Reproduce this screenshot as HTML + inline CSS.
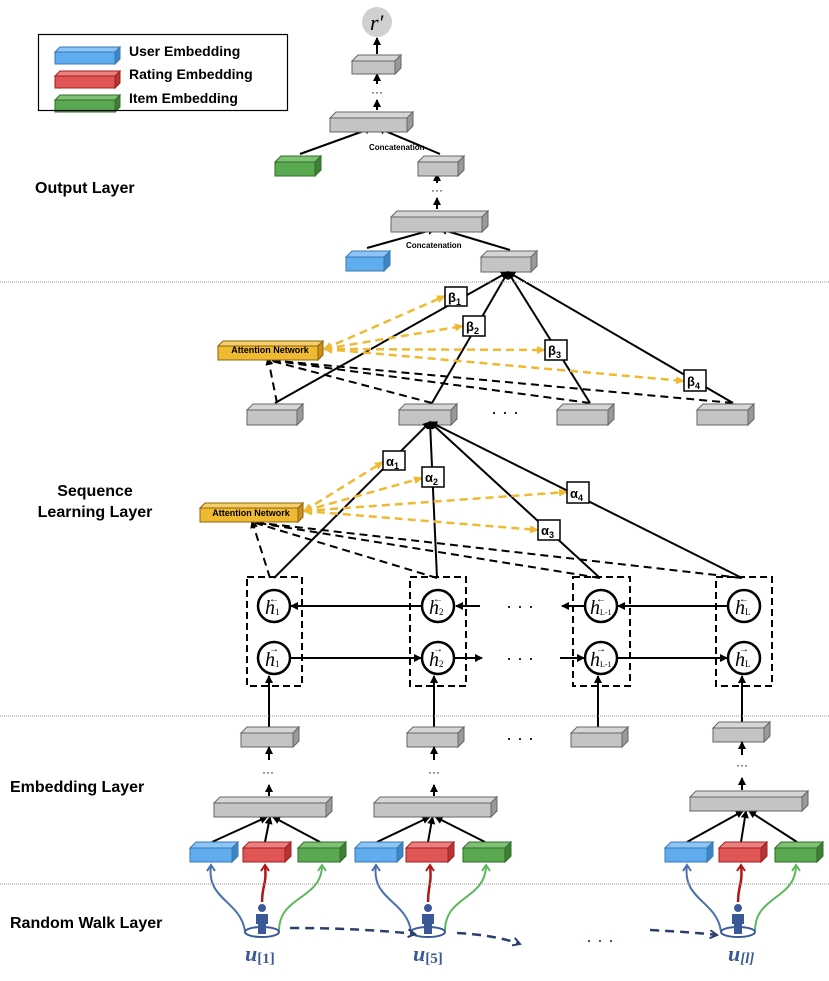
<!DOCTYPE html>
<html><head><meta charset="utf-8"><style>
html,body{margin:0;padding:0;background:#fff;width:829px;height:981px;overflow:hidden}
svg{display:block}
.lbl{font-family:"Liberation Sans",sans-serif;font-weight:bold;font-size:16px;fill:#000}
.lg{font-family:"Liberation Sans",sans-serif;font-weight:bold;font-size:14px;fill:#000}
.sm{font-family:"Liberation Sans",sans-serif;font-weight:bold;font-size:8px;fill:#000}
.an{font-family:"Liberation Sans",sans-serif;font-weight:bold;font-size:9px;fill:#000}
.gr{font-family:"Liberation Sans",sans-serif;font-weight:bold;font-size:13px;fill:#000}
.h{font-family:"Liberation Serif",serif;font-style:italic;font-size:20px;fill:#000}
.u{font-family:"Liberation Serif",serif;font-style:italic;font-weight:bold;font-size:22px;fill:#3b5998}
</style></head><body>
<svg id="s" width="829" height="981" viewBox="0 0 829 981" xmlns="http://www.w3.org/2000/svg">
<defs>
<marker id="ab" markerWidth="8" markerHeight="8" refX="7" refY="4" orient="auto" markerUnits="userSpaceOnUse"><path d="M0,0 L8,4 L0,8 Z" fill="#000"/></marker>
<marker id="ay" markerWidth="9" markerHeight="8" refX="8" refY="4" orient="auto-start-reverse" markerUnits="userSpaceOnUse"><path d="M0,0 L9,4 L0,8 Z" fill="#f0b932"/></marker>
<marker id="au" markerWidth="10" markerHeight="10" refX="8" refY="5" orient="auto" markerUnits="userSpaceOnUse"><path d="M1,1 L8,5 L1,9" fill="none" stroke="#2c3e6b" stroke-width="2"/></marker>
<marker id="abl" markerWidth="10" markerHeight="10" refX="5" refY="2" orient="0" markerUnits="userSpaceOnUse"><path d="M1,8 L5,2 L9,8" fill="none" stroke="#4a6fb0" stroke-width="2"/></marker>
<marker id="ar" markerWidth="10" markerHeight="10" refX="5" refY="2" orient="0" markerUnits="userSpaceOnUse"><path d="M1,8 L5,2 L9,8" fill="none" stroke="#b01818" stroke-width="2"/></marker>
<marker id="ag" markerWidth="10" markerHeight="10" refX="5" refY="2" orient="0" markerUnits="userSpaceOnUse"><path d="M1,8 L5,2 L9,8" fill="none" stroke="#5cb85c" stroke-width="2"/></marker>
</defs>
<g id="g"></g>
<!-- separators -->
<line x1="0" y1="282" x2="829" y2="282" stroke="#999" stroke-dasharray="1,1"/>
<line x1="0" y1="716" x2="829" y2="716" stroke="#999" stroke-dasharray="1,1"/>
<line x1="0" y1="884" x2="829" y2="884" stroke="#999" stroke-dasharray="1,1"/>
<!-- legend -->
<rect x="38.5" y="34.5" width="249" height="76" fill="none" stroke="#000" stroke-width="1.2"/>
<text class="lg" x="129" y="56">User Embedding</text>
<text class="lg" x="129" y="79">Rating Embedding</text>
<text class="lg" x="129" y="103">Item Embedding</text>
<!-- layer labels -->
<text class="lbl" x="35" y="193">Output Layer</text>
<text class="lbl" x="95" y="496" text-anchor="middle">Sequence</text>
<text class="lbl" x="95" y="517" text-anchor="middle">Learning Layer</text>
<text class="lbl" x="10" y="792">Embedding Layer</text>
<text class="lbl" x="10" y="928">Random Walk Layer</text>
<!-- r' -->
<circle cx="377" cy="22" r="15" fill="#d0d0d0"/>
<text x="370" y="30" font-family="Liberation Serif,serif" font-style="italic" font-size="22">r′</text>
<text class="sm" x="369" y="150">Concatenation</text>
<text class="sm" x="406" y="248">Concatenation</text>
<text x="377" y="96" font-size="12" text-anchor="middle" font-family="Liberation Sans">···</text>
<text x="437" y="194" font-size="12" text-anchor="middle" font-family="Liberation Sans">···</text>
<text x="268" y="776" font-size="12" text-anchor="middle" font-family="Liberation Sans">···</text>
<text x="434" y="776" font-size="12" text-anchor="middle" font-family="Liberation Sans">···</text>
<text x="742" y="769" font-size="12" text-anchor="middle" font-family="Liberation Sans">···</text>
<text x="505" y="418" font-size="18" text-anchor="middle" font-family="Liberation Sans">· · ·</text>
<text x="520" y="612" font-size="18" text-anchor="middle" font-family="Liberation Sans">· · ·</text>
<text x="520" y="664" font-size="18" text-anchor="middle" font-family="Liberation Sans">· · ·</text>
<text x="520" y="744" font-size="18" text-anchor="middle" font-family="Liberation Sans">· · ·</text>
<text x="600" y="946" font-size="18" text-anchor="middle" font-family="Liberation Sans" fill="#2c3e6b">· · ·</text>
<g id="top"></g>
<text class="an" x="270" y="353" text-anchor="middle">Attention Network</text>
<text class="an" x="251" y="516" text-anchor="middle">Attention Network</text>
<!-- beta / alpha labels -->
<rect x="445" y="287" width="22" height="19" fill="#fff" stroke="#000" stroke-width="1.5"/><text class="gr" x="448" y="302">β<tspan font-size="9" dy="3">1</tspan></text>
<rect x="463" y="316" width="22" height="20" fill="#fff" stroke="#000" stroke-width="1.5"/><text class="gr" x="466" y="331">β<tspan font-size="9" dy="3">2</tspan></text>
<rect x="545" y="340" width="22" height="20" fill="#fff" stroke="#000" stroke-width="1.5"/><text class="gr" x="548" y="355">β<tspan font-size="9" dy="3">3</tspan></text>
<rect x="684" y="370" width="22" height="21" fill="#fff" stroke="#000" stroke-width="1.5"/><text class="gr" x="687" y="386">β<tspan font-size="9" dy="3">4</tspan></text>
<rect x="383" y="451" width="22" height="19" fill="#fff" stroke="#000" stroke-width="1.5"/><text class="gr" x="386" y="466">α<tspan font-size="9" dy="3">1</tspan></text>
<rect x="422" y="467" width="22" height="20" fill="#fff" stroke="#000" stroke-width="1.5"/><text class="gr" x="425" y="482">α<tspan font-size="9" dy="3">2</tspan></text>
<rect x="567" y="482" width="22" height="21" fill="#fff" stroke="#000" stroke-width="1.5"/><text class="gr" x="570" y="498">α<tspan font-size="9" dy="3">4</tspan></text>
<rect x="538" y="520" width="22" height="20" fill="#fff" stroke="#000" stroke-width="1.5"/><text class="gr" x="541" y="535">α<tspan font-size="9" dy="3">3</tspan></text>
<!-- h nodes -->
<g id="hn"></g>
<text class="h" x="265" y="614">h<tspan font-size="9" dy="1" font-style="normal">1</tspan></text>
<text class="h" x="265" y="666">h<tspan font-size="9" dy="1" font-style="normal">1</tspan></text>
<text class="h" x="429" y="614">h<tspan font-size="9" dy="1" font-style="normal">2</tspan></text>
<text class="h" x="429" y="666">h<tspan font-size="9" dy="1" font-style="normal">2</tspan></text>
<text class="h" x="590" y="614">h<tspan font-size="8" dy="1" font-style="normal">L-1</tspan></text>
<text class="h" x="590" y="666">h<tspan font-size="8" dy="1" font-style="normal">L-1</tspan></text>
<text class="h" x="735" y="614">h<tspan font-size="9" dy="1" font-style="normal">L</tspan></text>
<text class="h" x="735" y="666">h<tspan font-size="9" dy="1" font-style="normal">L</tspan></text>
<text class="u" x="245" y="961">u<tspan font-size="15" font-style="normal" dy="2">[1]</tspan></text>
<text class="u" x="413" y="961">u<tspan font-size="15" font-style="normal" dy="2">[5]</tspan></text>
<text class="u" x="728" y="961">u<tspan font-size="15" dy="2">[l]</tspan></text>
</svg>
<script>
var NS="http://www.w3.org/2000/svg";
function el(p,t,a){var e=document.createElementNS(NS,t);for(var k in a)e.setAttribute(k,a[k]);document.getElementById(p).appendChild(e);return e;}
var C={g:["#c4c4c4","#d6d6d6","#9a9a9a","#666"],b:["#5fadef","#8cc5f5","#3d86c6","#3a78b0"],r:["#e05555","#ec8080","#b83333","#a02020"],gr:["#5aa84f","#80c075","#3e7f35","#2f6e2a"],o:["#f0b932","#f6cf6a","#c8901a","#8a6410"]};
function box(p,x,y,w,h,c,d){d=d||6;var k=C[c];
 el(p,"polygon",{points:[x,y+d,x+d,y,x+w+d,y,x+w,y+d].join(" "),fill:k[1],stroke:k[3],"stroke-width":1});
 el(p,"polygon",{points:[x+w,y+d,x+w+d,y,x+w+d,y+h,x+w,y+h+d].join(" "),fill:k[2],stroke:k[3],"stroke-width":1});
 el(p,"rect",{x:x,y:y+d,width:w,height:h,fill:k[0],stroke:k[3],"stroke-width":1});}
function ln(p,x1,y1,x2,y2,o){var a={x1:x1,y1:y1,x2:x2,y2:y2,stroke:"#000","stroke-width":2};for(var k in o)a[k]=o[k];return el(p,"line",a);}
var A={"marker-end":"url(#ab)"},D={"stroke-dasharray":"8,5"};
// legend swatches
box("g",55,47,60,12,"b",5);box("g",55,71,60,12,"r",5);box("g",55,95,60,12,"gr",5);
// output layer
ln("g",377,54,377,38,A);ln("g",377,110,377,100,A);ln("g",377,84,377,74,A);
ln("g",300,154,372,128,A);ln("g",440,154,378,128,A);
ln("g",437,209,437,198,A);ln("g",437,183,437,174,A);
ln("g",367,248,435,229,A);ln("g",510,250,440,229,A);
box("g",352,55,43,13,"g");box("g",330,112,77,14,"g");box("g",275,156,40,14,"gr");box("g",418,156,40,14,"g");
box("g",391,211,91,15,"g");box("g",346,251,38,14,"b");box("g",481,251,50,15,"g");
// upper attention lines
var rows=[[275,403],[432,403],[590,403],[733,403]];
rows.forEach(function(r){ln("g",r[0],r[1],508,272,A);});
// black dashed to upper attention
rows.forEach(function(r,i){ln("g",r[0]-(i==0?-2:0),r[1],268,(i==0?358:360),i==0?{"stroke-dasharray":"8,5","marker-end":"url(#ab)"}:D);});
// yellow dashed
var yb=[[445,296],[463,326],[545,350],[684,381]];
yb.forEach(function(b){el("g","line",{x1:324,y1:349,x2:b[0],y2:b[1],stroke:"#f0b932","stroke-width":2.5,"stroke-dasharray":"8,5","marker-end":"url(#ay)","marker-start":"url(#ay)"});});
box("g",218,341,100,14,"o",5);
box("g",247,404,50,15,"g");box("g",399,404,52,15,"g");box("g",557,404,51,15,"g");box("g",697,404,51,15,"g");
// lower lines
var hs=[[274,578],[437,578],[600,578],[742,578]];
hs.forEach(function(r){ln("g",r[0],r[1],430,422,A);});
hs.forEach(function(r,i){ln("g",r[0]-(i==0?4:0),r[1],252,(i==0?521:522),i==0?{"stroke-dasharray":"8,5","marker-end":"url(#ab)"}:D);});
var ya=[[383,462],[422,478],[567,492],[538,530]];
ya.forEach(function(b){el("g","line",{x1:304,y1:511,x2:b[0],y2:b[1],stroke:"#f0b932","stroke-width":2.5,"stroke-dasharray":"8,5","marker-end":"url(#ay)","marker-start":"url(#ay)"});});
box("g",200,503,98,14,"o",5);
// dashed rects + circles
[[247,302],[410,466],[573,630],[716,772]].forEach(function(r){el("hn","rect",{x:r[0],y:577,width:r[1]-r[0],height:109,fill:"none",stroke:"#000","stroke-width":2,"stroke-dasharray":"7,4"});});
[274,438,601,744].forEach(function(x){[606,658].forEach(function(y){el("hn","circle",{cx:x,cy:y,r:16,fill:"#fff",stroke:"#000","stroke-width":2.5});});
 el("hn","text",{x:x-5,y:602,"font-size":"10","font-family":"Liberation Sans"}).textContent="←";
 el("hn","text",{x:x-5,y:652,"font-size":"10","font-family":"Liberation Sans"}).textContent="→";});
ln("hn",421,606,291,606,A);ln("hn",480,606,456,606,A);ln("hn",585,606,562,606,A);ln("hn",727,606,618,606,A);
ln("hn",291,658,421,658,A);ln("hn",455,658,482,658,A);ln("hn",560,658,584,658,A);ln("hn",618,658,727,658,A);
// embedding
[[269,727],[434,727],[598,727],[742,722]].forEach(function(p){ln("g",p[0],p[1],p[0],676,A);});
box("g",241,727,52,14,"g");box("g",407,727,51,14,"g");box("g",571,727,51,14,"g");box("g",713,722,51,14,"g");
[[269,760,747],[434,760,747],[742,755,742]].forEach(function(p){ln("g",p[0],p[1],p[0],p[2],A);});
[[269,796,785],[434,796,785],[742,790,778]].forEach(function(p){ln("g",p[0],p[1],p[0],p[2],A);});
var G=[[214,797,112,[190,243,298],842],[374,797,117,[355,406,463],842],[690,791,112,[665,719,775],842]];
G.forEach(function(g){var cx=g[0]+g[2]/2,by=g[1]+20;ln("g",g[3][0]+22,g[4],cx-3,by,A);ln("g",g[3][1]+22,g[4],cx,by,A);ln("g",g[3][2]+22,g[4],cx+3,by,A);
 box("g",g[0],g[1],g[2],14,"g");box("g",g[3][0],g[4],42,14,"b");box("g",g[3][1],g[4],42,14,"r");box("g",g[3][2],g[4],42,14,"gr");});
// users
[[262,211,265,322],[428,376,430,486],[738,687,741,796]].forEach(function(u){var x=u[0];
 el("g","path",{d:"M"+(x-17)+",931 C"+(x-22)+",900 "+(u[1]-5)+",900 "+u[1]+",865",fill:"none",stroke:"#4a6fb0","stroke-width":2,"marker-end":"url(#abl)"});
 el("g","path",{d:"M"+x+",902 C"+x+",885 "+(u[2]+2)+",885 "+u[2]+",865",fill:"none",stroke:"#b01818","stroke-width":2.5,"marker-end":"url(#ar)"});
 el("g","path",{d:"M"+(x+17)+",931 C"+(x+17)+",895 "+(u[3])+",900 "+u[3]+",865",fill:"none",stroke:"#5cb85c","stroke-width":2,"marker-end":"url(#ag)"});
 el("g","ellipse",{cx:x,cy:932,rx:17,ry:5,fill:"none",stroke:"#3b5998","stroke-width":2});
 el("g","circle",{cx:x,cy:908,r:4,fill:"#3b5998"});
 el("g","path",{d:"M"+(x-6)+",914 h12 v10 h-2 v10 h-8 v-10 h-2 z",fill:"#3b5998"});});
[["M290,928 Q360,928 415,934"],["M457,933 Q495,935 520,944"],["M650,930 Q690,932 717,935"]].forEach(function(d){el("g","path",{d:d[0],fill:"none",stroke:"#2c3e6b","stroke-width":2.5,"stroke-dasharray":"9,6","marker-end":"url(#au)"});});
</script>
</body></html>
